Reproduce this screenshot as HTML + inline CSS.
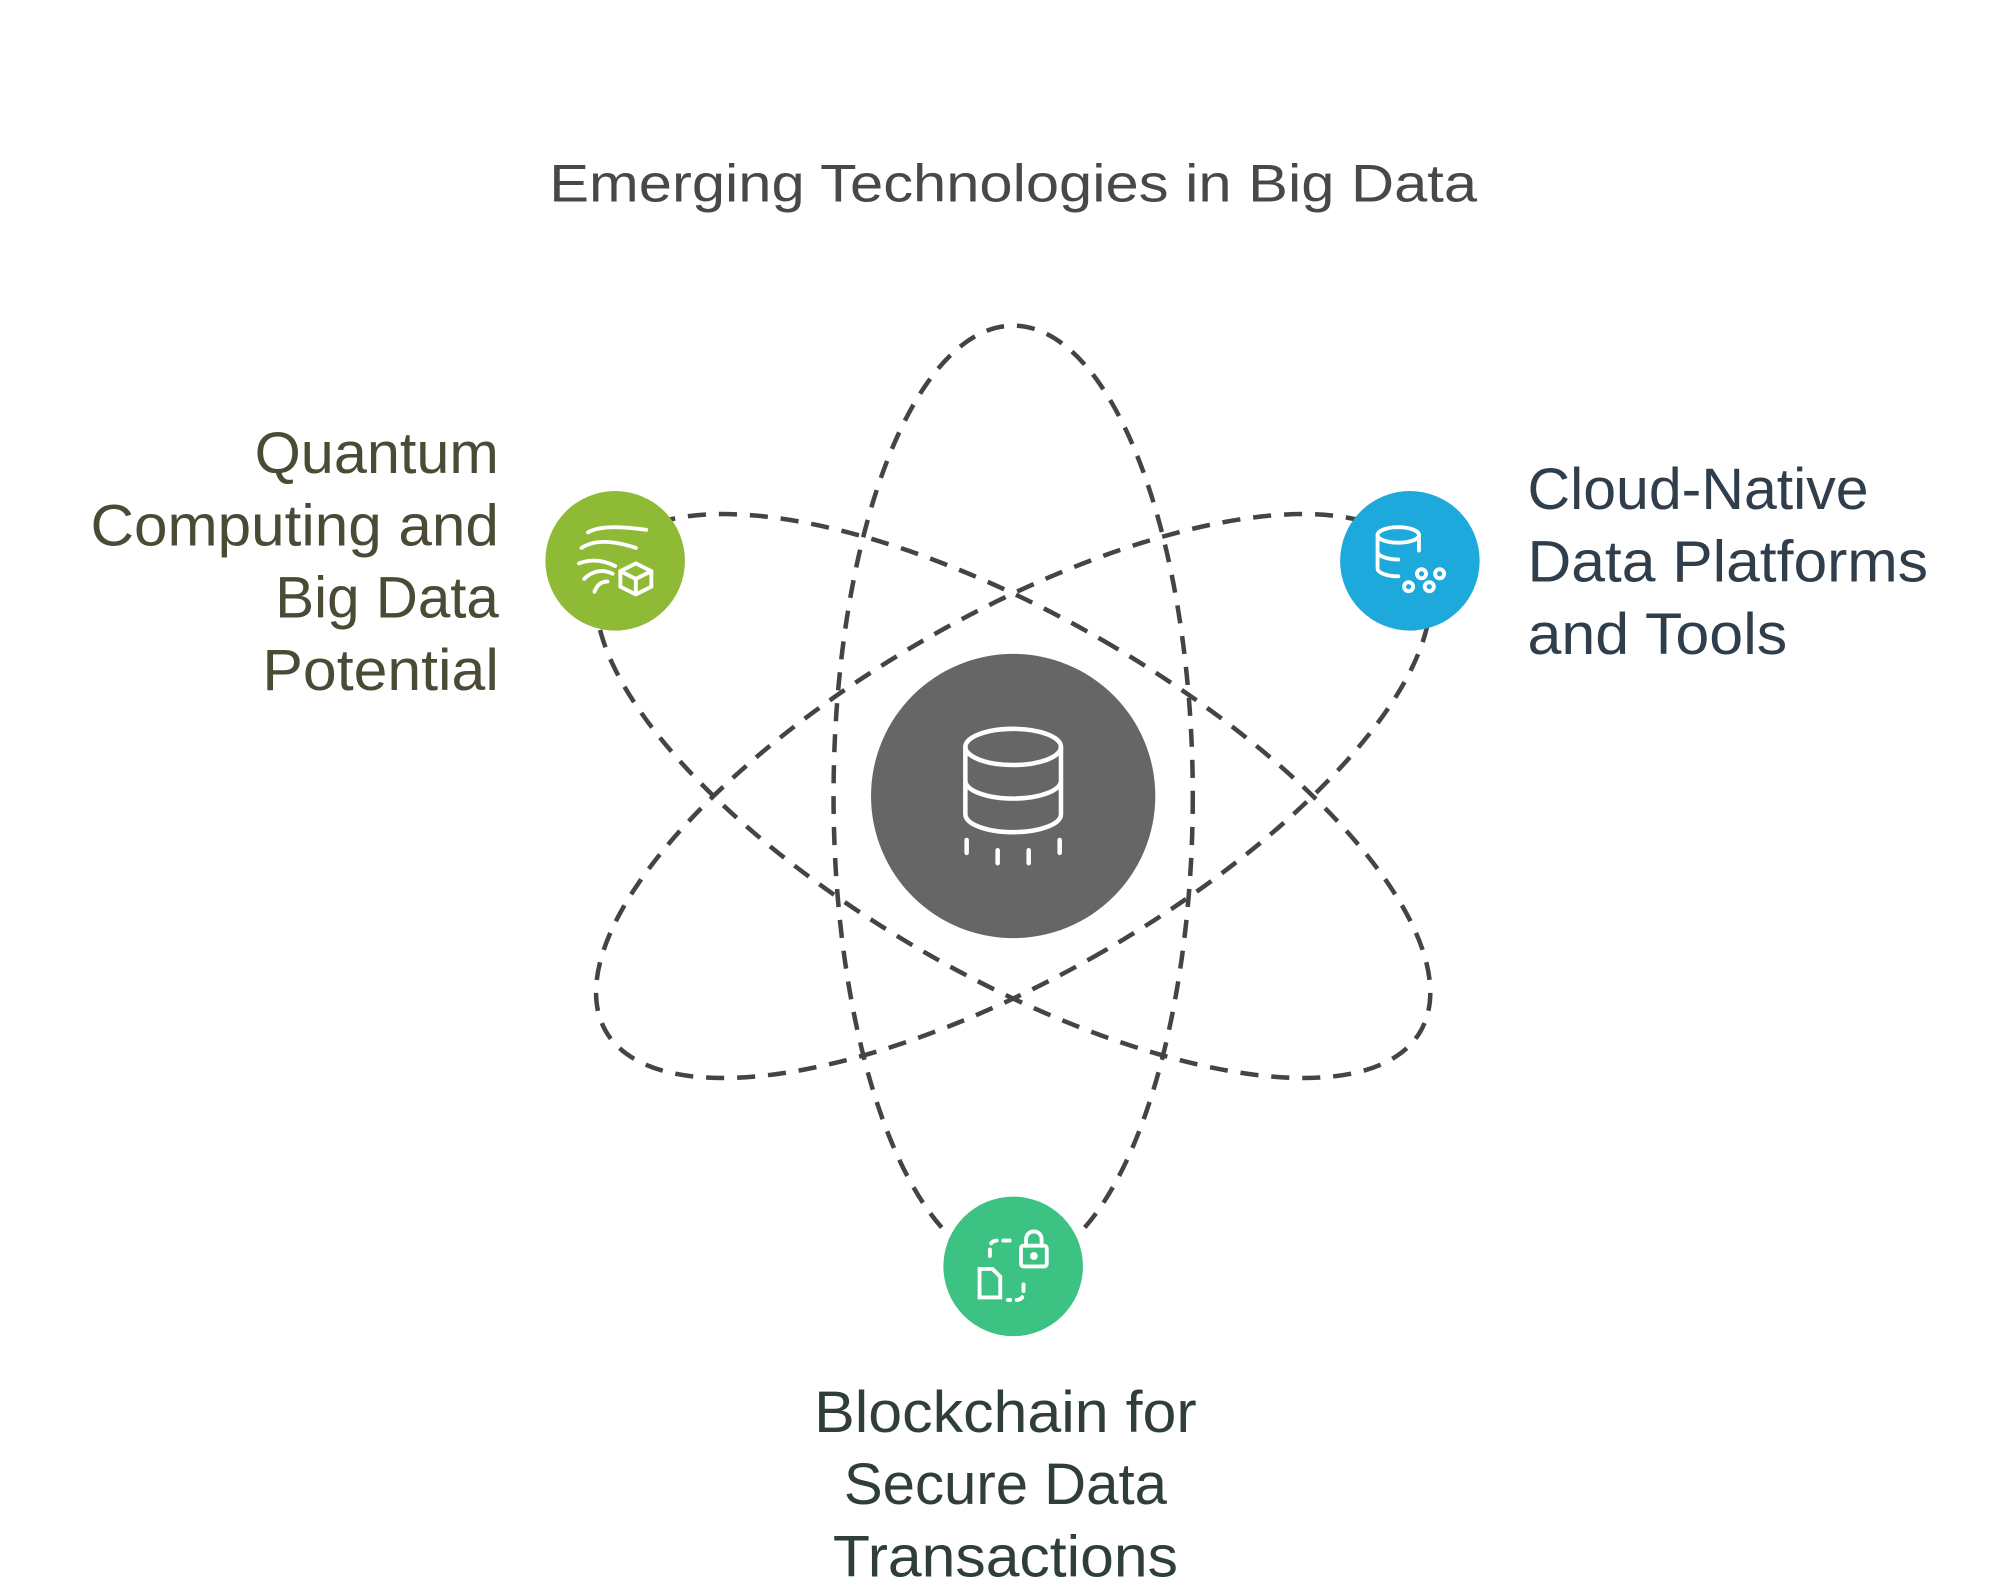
<!DOCTYPE html>
<html><head><meta charset="utf-8"><style>
html,body{margin:0;padding:0;background:#fff;}
svg{display:block;}
text{font-family:"Liberation Sans",sans-serif;}
</style></head><body>
<svg width="2016" height="1595" viewBox="0 0 1560 1234.3" xmlns="http://www.w3.org/2000/svg">
<rect width="1560" height="1235" fill="#fff"/>
<text x="784" y="156" font-size="41" fill="#484848" text-anchor="middle" textLength="718" lengthAdjust="spacingAndGlyphs">Emerging Technologies in Big Data</text>
<g fill="none" stroke="#444" stroke-width="3.5" stroke-dasharray="14 10">
<ellipse cx="784" cy="616" rx="139" ry="364"/>
<ellipse cx="784" cy="616" rx="139" ry="364" transform="rotate(60 784 616)"/>
<ellipse cx="784" cy="616" rx="139" ry="364" transform="rotate(-60 784 616)"/>
</g>
<circle cx="784" cy="616" r="110" fill="#666"/>
<g fill="none" stroke="#fff" stroke-width="3.5" stroke-linecap="round">
<ellipse cx="784" cy="578" rx="37" ry="14"/>
<path d="M747 578v52c0 8 17 14 37 14s37-6 37-14v-52M747 604c0 8 17 14 37 14s37-6 37-14"/>
<path d="M748 650v10M772 658v10M796 658v10M820 650v10"/>
</g>
<circle cx="476" cy="434" r="54" fill="#8fba35"/>
<g fill="none" stroke="#fff" stroke-width="3" stroke-linecap="round">
<path d="M455 412c10-6 30-4 45-2M450 424c12-8 30-4 42 0M448 436c10-4 20-2 28 2M452 448c6-6 14-8 22-4M460 458c2-6 6-8 10-8"/>
<path d="M492 436l12 6v12l-12 6-12-6v-12zM480 442l12 6 12-6M492 448v12"/>
</g>
<circle cx="1091" cy="434" r="54" fill="#1ea9dc"/>
<g fill="none" stroke="#fff" stroke-width="3" stroke-linecap="round">
<ellipse cx="1082" cy="414" rx="16" ry="6"/>
<path d="M1066 414v26c0 3 7 6 16 6M1098 414v12M1066 427c0 3 7 6 16 6"/>
<circle cx="1090" cy="454" r="3.5"/><circle cx="1100" cy="444" r="3.5"/><circle cx="1106" cy="454" r="3.5"/><circle cx="1114" cy="444" r="3.5"/>
</g>
<circle cx="784" cy="980" r="54" fill="#3cc383"/>
<g fill="none" stroke="#fff" stroke-width="3" stroke-linecap="round">
<path d="M758 982h10l6 6v16h-16z"/>
<path d="M766 972v-6c0-4 2-6 6-6h10M792 994v6c0 4-2 6-6 6h-6" stroke-dasharray="5 5"/>
<rect x="790" y="964" width="20" height="16" rx="2"/>
<path d="M794 964v-5c0-8 12-8 12 0v5"/>
<circle cx="800" cy="972" r="1.5"/>
</g>
<g font-size="45" fill="#4a4a35" text-anchor="end" lengthAdjust="spacingAndGlyphs">
<text x="386" y="366" textLength="189" lengthAdjust="spacingAndGlyphs">Quantum</text>
<text x="386" y="422" textLength="316" lengthAdjust="spacingAndGlyphs">Computing and</text>
<text x="386" y="478" textLength="173" lengthAdjust="spacingAndGlyphs">Big Data</text>
<text x="386" y="534" textLength="183" lengthAdjust="spacingAndGlyphs">Potential</text>
</g>
<g font-size="45" fill="#2f3e4a">
<text x="1182" y="394" textLength="264" lengthAdjust="spacingAndGlyphs">Cloud-Native</text>
<text x="1182" y="450" textLength="310" lengthAdjust="spacingAndGlyphs">Data Platforms</text>
<text x="1182" y="506" textLength="201" lengthAdjust="spacingAndGlyphs">and Tools</text>
</g>
<g font-size="45" fill="#2f3e3a" text-anchor="middle">
<text x="778" y="1108" textLength="296" lengthAdjust="spacingAndGlyphs">Blockchain for</text>
<text x="778" y="1164" textLength="250" lengthAdjust="spacingAndGlyphs">Secure Data</text>
<text x="778" y="1220" textLength="267" lengthAdjust="spacingAndGlyphs">Transactions</text>
</g>
</svg>
</body></html>
